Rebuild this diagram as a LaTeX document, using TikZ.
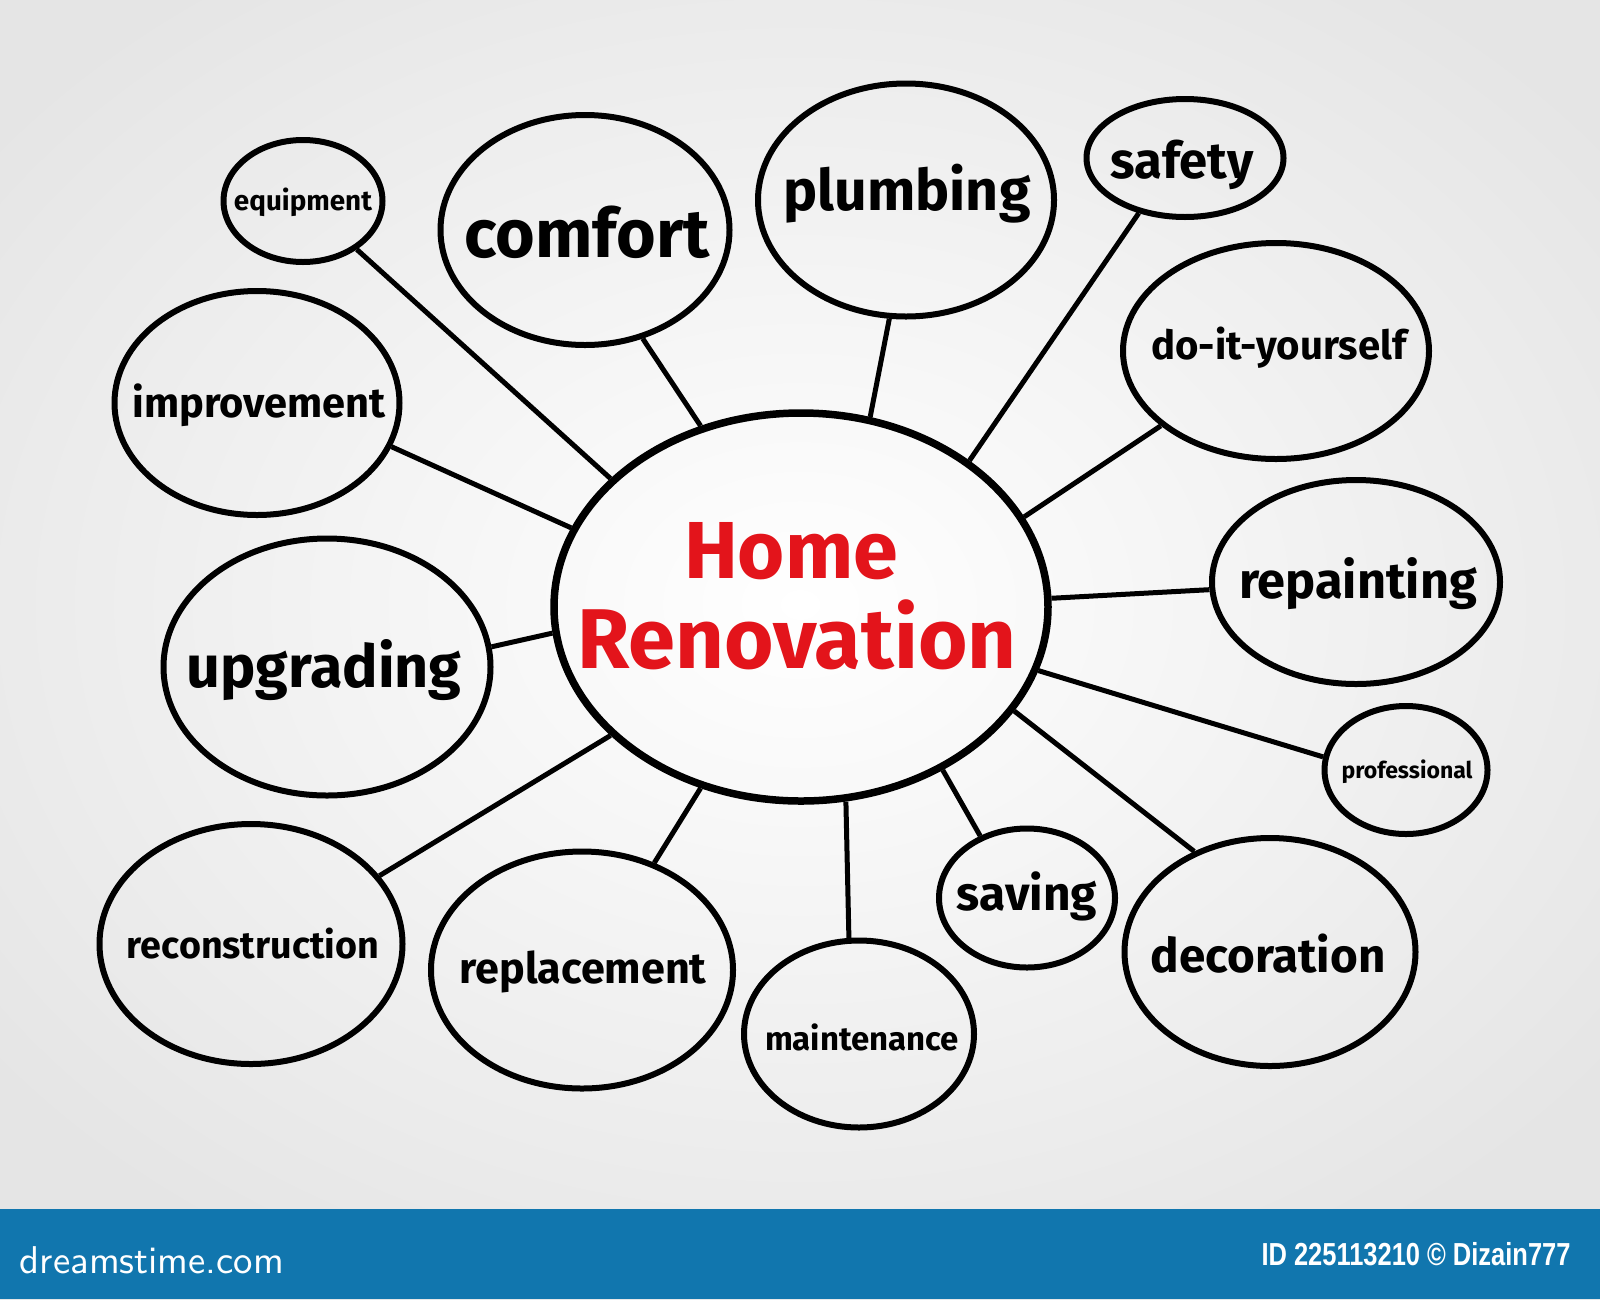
\documentclass[tikz,border=0pt]{standalone}
\usepackage{fontspec}
\setmainfont{Fira Sans}
\newfontfamily\barfont{Liberation Sans}
\usetikzlibrary{shapes.geometric}
\definecolor{barblue}{HTML}{1176AE}
\definecolor{hred}{HTML}{E3141B}
\newcommand{\lab}[2]{\resizebox{#1pt}{!}{\bfseries #2}}
\begin{document}
\begin{tikzpicture}[x=1pt,y=-1pt,
  bub/.style={ellipse, draw=black, line width=6pt, inner sep=0pt},
  hubst/.style={ellipse, draw=black, line width=7.5pt, inner sep=0pt},
  conn/.style={line width=5pt, draw=black},
  lbl/.style={inner sep=0pt, text=black}]
\useasboundingbox (0,0) rectangle (1600,1299);
\shade[inner color=white, outer color=black!10] (-200,-150) rectangle (1800,1359);
\fill[barblue] (0,1209) rectangle (1600,1299);

% hub
\node[hubst, minimum width=494pt, minimum height=388pt] (hub) at (801,607) {};
\node[lbl, text=hred] (home) at (791,551) {\lab{214}{Home}};
\node[lbl, text=hred] (renov) at (797,635) {\lab{439}{Renovation}};

% bubbles
\node[bub, minimum width=159pt, minimum height=122pt] (equip) at (303,201) {};
\node[bub, minimum width=289pt, minimum height=230pt] (comfort) at (585,230) {};
\node[bub, minimum width=296pt, minimum height=233pt] (plumb) at (906,200) {};
\node[bub, minimum width=197pt, minimum height=118pt] (safety) at (1185,158) {};
\node[bub, minimum width=306pt, minimum height=216pt] (diy) at (1276,351) {};
\node[bub, minimum width=288pt, minimum height=204pt] (repaint) at (1356,582) {};
\node[bub, minimum width=163pt, minimum height=128pt] (prof) at (1406,770) {};
\node[bub, minimum width=291pt, minimum height=228pt] (decor) at (1270,952) {};
\node[bub, minimum width=176pt, minimum height=139pt] (saving) at (1027,898) {};
\node[bub, minimum width=230pt, minimum height=187pt] (maint) at (859,1034) {};
\node[bub, minimum width=302pt, minimum height=237pt] (replace) at (582,970) {};
\node[bub, minimum width=303pt, minimum height=240pt] (recon) at (251,944) {};
\node[bub, minimum width=327pt, minimum height=257pt] (upgrade) at (327,667) {};
\node[bub, minimum width=285pt, minimum height=224pt] (improve) at (257,403) {};

% labels
\node[lbl] (equip-t) at (303,202) {\lab{138}{equipment}};
\node[lbl] (comfort-t) at (587,232) {\lab{245}{comfort}};
\node[lbl] (plumb-t) at (907,194) {\lab{247}{plumbing}};
\node[lbl] (safety-t) at (1182,165) {\lab{143}{safety}};
\node[lbl] (diy-t) at (1279,348) {\lab{255}{do-it-yourself}};
\node[lbl] (repaint-t) at (1358,584) {\lab{238}{repainting}};
\node[lbl] (prof-t) at (1407,772) {\lab{131}{professional}};
\node[lbl] (decor-t) at (1268,954) {\lab{235}{decoration}};
\node[lbl] (saving-t) at (1027,896) {\lab{140}{saving}};
\node[lbl] (maint-t) at (862,1037) {\lab{194}{maintenance}};
\node[lbl] (replace-t) at (583,972) {\lab{247}{replacement}};
\node[lbl] (recon-t) at (253,944) {\lab{252}{reconstruction}};
\node[lbl] (upgrade-t) at (324,670) {\lab{275}{upgrading}};
\node[lbl] (improve-t) at (259,405) {\lab{253}{improvement}};

% connectors
\draw[conn] (equip.318) -- (hub.146);
\draw[conn] (comfort.298) -- (hub.119);
\draw[conn] (plumb.262) -- (hub.70);
\draw[conn] (safety.230) -- (hub.41);
\draw[conn] (diy.213) -- (hub.22);
\draw[conn] (repaint.183) -- (hub.2);
\draw[conn] (prof.171) -- (hub.345);
\draw[conn] (decor.127) -- (hub.334);
\draw[conn] (saving.127) -- (hub.311);
\draw[conn] (maint.96) -- (hub.283);
\draw[conn] (replace.56) -- (hub.241);
\draw[conn] (recon.28) -- (hub.214);
\draw[conn] (upgrade.7) -- (hub.186);
\draw[conn] (improve.342) -- (hub.161);

% bottom bar text
\node[inner sep=0pt, text=white] (dt) at (152,1260) {\resizebox{264pt}{!}{\sffamily dreamstime.com}};
\node[inner sep=0pt, text=white] (id) at (1416,1254) {\resizebox{309pt}{!}{\scalebox{0.8}[1]{\barfont\bfseries ID 225113210 © Dizain777}}};
\end{tikzpicture}
\end{document}
